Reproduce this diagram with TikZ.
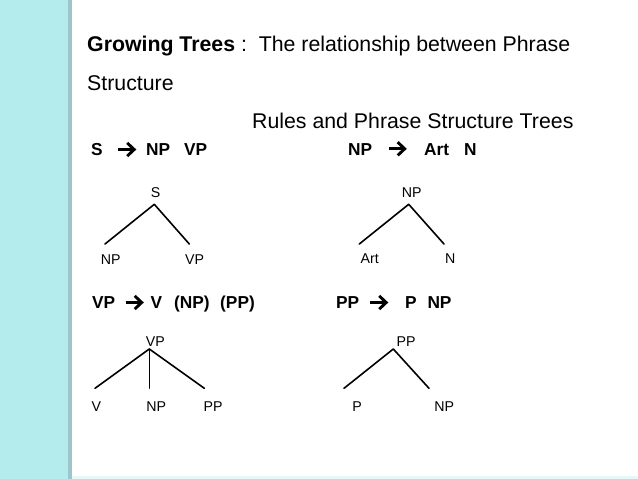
\documentclass[tikz,border=0pt]{standalone}
\usepackage{fontspec}
\setmainfont{Liberation Sans}
\definecolor{panelcyan}{HTML}{B4ECEE}
\definecolor{paneledge}{HTML}{9CC6CA}
\definecolor{bottomstrip}{HTML}{E6F8F8}
\tikzset{
  titletext/.style={anchor=base west,inner sep=0pt,font=\fontsize{21.3}{25}\selectfont},
  ruletext/.style={anchor=base west,inner sep=0pt,font=\fontsize{17.3}{20}\selectfont\bfseries},
  treelabel/.style={anchor=base,inner sep=0pt,font=\fontsize{14.2}{17}\selectfont},
  branch/.style={line width=1.6pt,line cap=round,line join=round},
  arrowstroke/.style={line width=2.9pt,line join=miter},
  rarrow/.pic={
    \draw[arrowstroke] (0,0) -- (15.5,0);
    \draw[arrowstroke] (9.2,-6.6) -- (16.2,0) -- (9.2,6.6);
  }
}
\begin{document}
\begin{tikzpicture}[x=1pt,y=-1pt]
\useasboundingbox (0,0) rectangle (638,479);
% background
\fill[white] (0,0) rectangle (638,479);
\fill[panelcyan] (0,0) rectangle (68,479);
\fill[paneledge] (68,0) rectangle (72,479);
\fill[bottomstrip] (72,476) rectangle (638,479);
% title
\node[titletext] (title) at (87,52) {\textbf{Growing Trees} :\ \ The relationship between Phrase};
\node[titletext] (title2) at (87,90) {Structure};
\node[titletext] (title3) at (252,128) {Rules and Phrase Structure Trees};
% rule 1
\node[ruletext] (r1a) at (91,155) {S};
\pic (r1b) at (118,149.5) {rarrow};
\node[ruletext] (r1c) at (146,155) {NP};
\node[ruletext] (r1d) at (184,155) {VP};
% rule 2
\node[ruletext] (r2a) at (348,155) {NP};
\pic (r2b) at (388.5,148.8) {rarrow};
\node[ruletext] (r2c) at (424,155) {Art};
\node[ruletext] (r2d) at (464,155) {N};
% rule 3
\node[ruletext] (r3a) at (92,308) {VP};
\pic (r3b) at (125.5,302.5) {rarrow};
\node[ruletext] (r3c) at (150.5,308) {V};
\node[ruletext] (r3d) at (174,308) {(NP)};
\node[ruletext] (r3e) at (220,308) {(PP)};
% rule 4
\node[ruletext] (r4a) at (336,308) {PP};
\pic (r4b) at (370,302.5) {rarrow};
\node[ruletext] (r4c) at (405,308) {P};
\node[ruletext] (r4d) at (427.3,308) {NP};
% tree S
\node[treelabel] (tS) at (155.7,197.3) {S};
\node[treelabel] (tSnp) at (110.7,264) {NP};
\node[treelabel] (tSvp) at (194.5,264) {VP};
\coordinate (tSa) at (154.3,204.3);
\coordinate (tSl) at (105,244);
\coordinate (tSr) at (189.3,244);
\draw[branch] (tSl) -- (tSa) -- (tSr);
% tree NP
\node[treelabel] (tN) at (411.7,197.3) {NP};
\node[treelabel] (tNart) at (369.7,263.5) {Art};
\node[treelabel] (tNn) at (450.3,263.5) {N};
\coordinate (tNa) at (408.7,204.3);
\coordinate (tNl) at (359.3,244);
\coordinate (tNr) at (444,244);
\draw[branch] (tNl) -- (tNa) -- (tNr);
% tree VP
\node[treelabel] (tV) at (155.3,346) {VP};
\node[treelabel] (tVv) at (96.3,411.7) {V};
\node[treelabel] (tVnp) at (156.2,411.7) {NP};
\node[treelabel] (tVpp) at (213,411.7) {PP};
\coordinate (tVa) at (149.3,349);
\coordinate (tVl) at (95,388.3);
\coordinate (tVm) at (149.3,388.3);
\coordinate (tVr) at (204.3,388.3);
\draw[branch] (tVl) -- (tVa) -- (tVr);
\draw[branch] (tVa) -- (tVm);
% tree PP
\node[treelabel] (tP) at (406,346) {PP};
\node[treelabel] (tPp) at (357,411.7) {P};
\node[treelabel] (tPnp) at (444.2,411.7) {NP};
\coordinate (tPa) at (393.3,349);
\coordinate (tPl) at (344,388.3);
\coordinate (tPr) at (429,388.3);
\draw[branch] (tPl) -- (tPa) -- (tPr);
\end{tikzpicture}
\end{document}
